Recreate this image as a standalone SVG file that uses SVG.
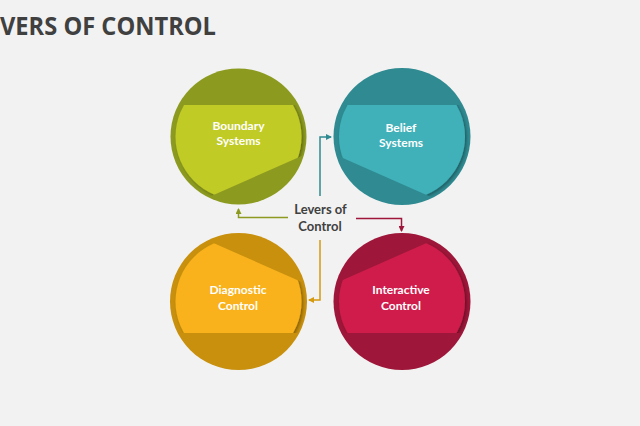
<svg xmlns="http://www.w3.org/2000/svg" width="640" height="426" viewBox="0 0 640 426">
<defs>
<style>
.title{font-family:"Open Sans","Liberation Sans",sans-serif;font-weight:bold;font-size:25px;fill:#404040}
.lbl{font-family:Lato,"Open Sans","Liberation Sans",sans-serif;font-weight:bold;font-size:12px;fill:#ffffff;text-anchor:middle}
.ctr{font-family:Lato,"Open Sans","Liberation Sans",sans-serif;font-weight:bold;font-size:13px;fill:#404040;text-anchor:middle}
.ln{fill:none;stroke-width:1.5}
</style>
<filter id="sh" x="-20%" y="-20%" width="140%" height="140%">
<feDropShadow dx="1.5" dy="1.5" stdDeviation="1.5" flood-color="#000" flood-opacity="0.35"/>
</filter>
<clipPath id="cb"><polygon points="150,105 330,105 330,143.6 180,209.7 150,209.7"/></clipPath>
<clipPath id="cbe"><polygon points="490,105 310,105 310,143.6 460,209.7 490,209.7"/></clipPath>
<clipPath id="cd"><polygon points="150,333 330,333 330,294.4 180,228.3 150,228.3"/></clipPath>
<clipPath id="ci"><polygon points="490,333 310,333 310,294.4 460,228.3 490,228.3"/></clipPath>
<marker id="ag" viewBox="0 0 6 6" refX="5" refY="3" markerWidth="4" markerHeight="4" orient="auto"><path d="M0,0L6,3L0,6z" fill="#8C9B1F"/></marker>
<marker id="at" viewBox="0 0 6 6" refX="5" refY="3" markerWidth="4" markerHeight="4" orient="auto"><path d="M0,0L6,3L0,6z" fill="#2F8A91"/></marker>
<marker id="ar" viewBox="0 0 6 6" refX="5" refY="3" markerWidth="4" markerHeight="4" orient="auto"><path d="M0,0L6,3L0,6z" fill="#9E1639"/></marker>
<marker id="ao" viewBox="0 0 6 6" refX="5" refY="3" markerWidth="4" markerHeight="4" orient="auto"><path d="M0,0L6,3L0,6z" fill="#D59A0E"/></marker>
</defs>
<rect width="640" height="426" fill="#F2F2F2"/>
<text class="title" x="0" y="35" textLength="216" lengthAdjust="spacingAndGlyphs">VERS OF CONTROL</text>

<g id="connectors">
<polyline class="ln" points="288,217.5 238.5,217.5 238.5,209" stroke="#8C9B1F" marker-end="url(#ag)"/>
<polyline class="ln" points="320,196 320,137 331,137" stroke="#2F8A91" marker-end="url(#at)"/>
<polyline class="ln" points="356,218.5 401.5,218.5 401.5,231" stroke="#9E1639" marker-end="url(#ar)"/>
<polyline class="ln" points="320,240 320,300 309,300" stroke="#D59A0E" marker-end="url(#ao)"/>
</g>

<g id="boundary">
<circle cx="238.5" cy="136.5" r="68" fill="#8C9B1F"/>
<circle cx="238.5" cy="136.5" r="63" fill="#C1CB25" clip-path="url(#cb)" filter="url(#sh)"/>
<text class="lbl" x="238.5" y="130">Boundary</text>
<text class="lbl" x="238.5" y="144.5">Systems</text>
</g>

<g id="belief">
<circle cx="402" cy="136.5" r="68.5" fill="#2F8A91"/>
<circle cx="402" cy="136.5" r="63" fill="#3FB1B9" clip-path="url(#cbe)" filter="url(#sh)"/>
<text class="lbl" x="401" y="131.5">Belief</text>
<text class="lbl" x="401" y="146.5">Systems</text>
</g>

<g id="diagnostic">
<circle cx="238.5" cy="301.5" r="68.5" fill="#C8900D"/>
<circle cx="238.5" cy="301.5" r="63" fill="#F9B21B" clip-path="url(#cd)" filter="url(#sh)"/>
<text class="lbl" x="238" y="294">Diagnostic</text>
<text class="lbl" x="238" y="309.5">Control</text>
</g>

<g id="interactive">
<circle cx="402" cy="301.5" r="68.5" fill="#9E1639"/>
<circle cx="402" cy="301.5" r="63" fill="#CF1B4B" clip-path="url(#ci)" filter="url(#sh)"/>
<text class="lbl" x="401" y="294">Interactive</text>
<text class="lbl" x="401" y="309.5">Control</text>
</g>

<g id="center">
<text class="ctr" x="320.5" y="214">Levers of</text>
<text class="ctr" x="320" y="231">Control</text>
</g>
</svg>
